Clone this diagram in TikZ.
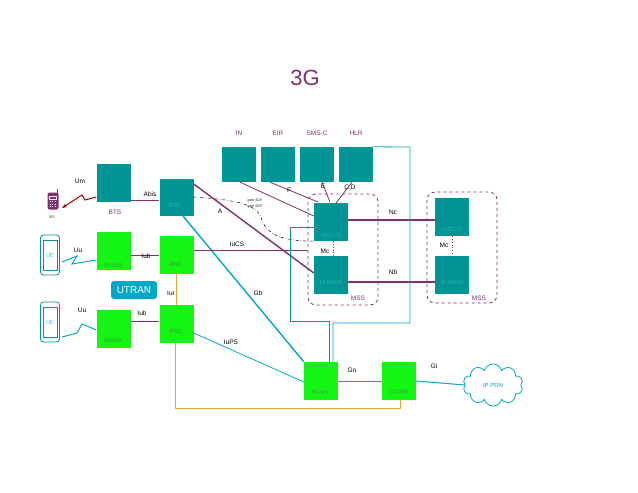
\documentclass[tikz,border=0pt]{standalone}
\usepackage{fontspec}
\setmainfont{Liberation Sans}
\usetikzlibrary{shapes.symbols,arrows.meta}
\definecolor{tealb}{RGB}{0,148,148}
\definecolor{tealt}{RGB}{40,175,175}
\definecolor{grn}{RGB}{20,245,20}
\definecolor{grt}{RGB}{40,170,40}
\definecolor{purp}{RGB}{128,48,110}
\definecolor{cyanl}{RGB}{0,168,198}
\definecolor{orng}{RGB}{240,165,50}
\begin{document}
\begin{tikzpicture}[x=1pt,y=-1pt,
  tb/.style={fill=tealb,draw=none,minimum width=34pt,minimum height=37pt,inner sep=0pt},
  gbx/.style={fill=grn,draw=none,minimum width=34pt,minimum height=38pt,inner sep=0pt},
  itx/.style={font=\fontsize{6}{6}\selectfont,text=tealt},
  ing/.style={font=\fontsize{6}{6}\selectfont,text=grt},
  lb/.style={font=\fontsize{6.5}{7}\selectfont,text=black},
  pl/.style={draw=purp,line width=0.8pt},
  plt/.style={draw=purp,line width=1.4pt},
  cl/.style={draw=cyanl,line width=0.8pt},
  ctl/.style={draw=cyanl,line width=1.4pt},
  mss/.style={draw=purp,dashed,line width=0.8pt,rounded corners=8pt}]
\useasboundingbox[fill=white] (0,0) rectangle (638,493);
\node[text=purp,font=\fontsize{22}{22}\selectfont] (title) at (305,78) {3G};
% top boxes
\foreach \n/\x/\t in {inb/239/IN,eir/278/EIR,smsc/317/SMS-C,hlr/356/HLR}{
  \node[tb,minimum height=35pt] (\n) at (\x,164.5) {};
  \node[text=purp,font=\fontsize{6.5}{7}\selectfont] (\n l) at (\x,133) {\t};}
% MSS frames
\draw[mss] (308,194) rectangle (378,305);
\draw[mss] (427,192) rectangle (497,303);
\node[text=purp,font=\fontsize{6.5}{7}\selectfont] (mss1) at (358,298) {MSS};
\node[text=purp,font=\fontsize{6.5}{7}\selectfont] (mss2) at (479,298) {MSS};
% GSM
\node[tb,minimum height=38pt] (bts) at (113.5,183) {};
\node[text=purp,font=\fontsize{6.5}{7}\selectfont] (btsl) at (115,212) {BTS};
\node[tb] (bsc) at (176.5,197.5) {};
\node[itx] (bscl) at (175,205) {BSC};
% core
\node[tb,minimum height=38pt] (msc1) at (331,222) {};
\node[itx] (msc1l) at (331,235) {MSC-S};
\node[tb,minimum height=38pt] (mgw1) at (331,275) {};
\node[itx] (mgw1l) at (331,282) {M-MGW};
\node[tb,minimum height=38pt] (msc2) at (452,217) {};
\node[itx] (msc2l) at (452,229) {MSC-S};
\node[tb,minimum height=38pt] (mgw2) at (452,275) {};
\node[itx] (mgw2l) at (452,282) {M-MGW};
% UTRAN
\node[gbx] (nb1) at (113.5,251) {};
\node[ing] (nb1l) at (113,265) {NodeB};
\node[gbx] (rnc1) at (176.5,255) {};
\node[ing] (rnc1l) at (176,264) {RNC};
\node[gbx] (nb2) at (113.5,329) {};
\node[ing] (nb2l) at (113,340) {NodeB};
\node[gbx] (rnc2) at (176.5,324) {};
\node[ing] (rnc2l) at (176,331) {RNC};
\node[fill=cyanl,text=white,rounded corners=3pt,minimum width=46pt,minimum height=18pt,inner sep=0pt,font=\fontsize{10}{10}\selectfont] (utran) at (134,290) {UTRAN};
\node[gbx] (sgsn) at (321,381) {};
\node[ing] (sgsnl) at (320,392) {SGSN};
\node[gbx] (ggsn) at (399,381) {};
\node[ing] (ggsnl) at (399,392) {GGSN};
\node[cloud,cloud puffs=10,aspect=1.5,draw=cyanl,line width=0.8pt,fill=white,minimum width=60pt,minimum height=42pt,text=cyanl,font=\fontsize{6}{6}\selectfont] (pdn) at (493,385) {IP PDN};
% phones
\node[fill=purp,rounded corners=2pt,minimum width=11pt,minimum height=17pt,inner sep=0pt] (ms) at (53,201) {};
\draw[white,line width=0.5pt] (49.5,196) rectangle (56.5,199);
\foreach \yy in {201.5,204,206.5}{\draw[white,line width=0.6pt,dotted] (49.5,\yy) -- (56.5,\yy);}
\draw[purp,line width=1pt] (57,193) -- (57,189);
\node[text=purp,font=\fontsize{4}{4}\selectfont] (msl) at (52,217) {MS};
\foreach \n/\yy in {ue1/255,ue2/322}{
  \node[draw=tealb,line width=0.8pt,rounded corners=3pt,minimum width=19pt,minimum height=40pt,inner sep=0pt] (\n) at (50,\yy) {};
  \node[draw=tealb,line width=0.6pt,minimum width=14pt,minimum height=30pt,inner sep=0pt,text=cyanl!70,font=\fontsize{6}{6}\selectfont] (\n t) at (50,\yy) {UE};}
% GSM links
\draw[draw=red!60!black,line width=1pt,-{Stealth[length=5pt]}] (bts.west|-0,197) -- (85,200) -- (82,195) -- (62,208);
\node[lb] (um) at (80,181) {Um};
\draw[pl] (bts.east|-0,200) -- (bsc.west|-0,200);
\node[lb] (abis) at (150,194) {Abis};
\draw[plt] (bsc.east|-0,184) -- (mgw1.west|-0,273);
\node[lb] (a) at (220,211) {A};
\draw[ctl] (183,216) -- (sgsn.north west);
\node[lb] (gb) at (258,293) {Gb};
\draw[black,dash dot,line width=0.5pt] (193,197) .. controls (240,200) and (258,205) .. (262,220) .. controls (268,238) and (290,241) .. (msc1.south west);
\node[font=\fontsize{3.5}{4}\selectfont] (scf1) at (255,201) {gsm SCF};
\node[font=\fontsize{3.5}{4}\selectfont] (scf2) at (255,207) {gsm SCF};
% UTRAN links
\draw[cyanl,line width=1pt] (nb1.west|-0,260) -- (72,264) -- (77,256) -- (62,262);
\draw[cyanl,line width=1pt] (nb2.west|-0,330) -- (82,324) -- (77,333) -- (62,337);
\node[lb] (uu1) at (78,250) {Uu};
\node[lb] (uu2) at (82,310) {Uu};
\draw[pl] (nb1.east|-0,255) -- (rnc1.west|-0,255);
\node[lb] (iub1) at (146,256) {Iub};
\draw[pl] (nb2.east|-0,321) -- (rnc2.west|-0,321);
\node[lb] (iub2) at (142,313) {Iub};
\draw[orng,line width=0.8pt] (rnc1.south) -- (rnc2.north);
\node[lb] (iur) at (171,293) {Iur};
\draw[pl] (rnc1.east|-0,250) -- (308,250);
\node[lb] (iucs) at (237,244) {IuCS};
\draw[cl] (rnc2.east|-0,333) -- (sgsn.west|-0,382);
\node[lb] (iups) at (231,342) {IuPS};
\draw[orng,line width=0.8pt] (rnc2.south-|175,0) -- (175,408) -- (400,408) -- (ggsn.south-|400,0);
% core links
\draw[pl] (inb.south-|240,0) -- (msc1.west|-0,216);
\draw[pl] (eir.south-|270,0) -- (318,202);
\draw[pl] (smsc.south-|322,0) -- (330,202);
\draw[pl] (hlr.south-|352,0) -- (336,203);
\node[lb] (f) at (289,190) {F};
\node[lb] (e) at (323,186) {E};
\node[lb] (cd) at (350,188) {C,D};
\draw[purp,dotted,line width=0.8pt] (msc1.south-|333,0) -- (mgw1.north-|333,0);
\draw[purp,dotted,line width=0.8pt] (msc2.south) -- (mgw2.north);
\node[lb] (mc1) at (325,251) {Mc};
\node[lb] (mc2) at (444,245) {Mc};
\draw[plt] (msc1.east|-0,220) -- (msc2.west|-0,220);
\node[lb] (nc) at (393,212) {Nc};
\draw[plt] (mgw1.east|-0,282) -- (mgw2.west|-0,282);
\node[lb] (nb) at (393,272) {Nb};
\draw[draw=tealb,line width=0.8pt] (msc1.west|-0,227) -- (290,227) -- (290,321) -- (329,321) -- (sgsn.north-|329,0);
\draw[cl] (sgsn.north-|333,0) -- (333,323) -- (410,323) -- (410,147) -- (hlr.north east);
\draw[cl,line width=1pt] (sgsn.east) -- (ggsn.west);
\node[lb] (gn) at (352,370) {Gn};
\draw[cl,line width=1pt] (ggsn.east) -- (pdn.west);
\node[lb] (gi) at (434,366) {Gi};
\end{tikzpicture}
\end{document}
